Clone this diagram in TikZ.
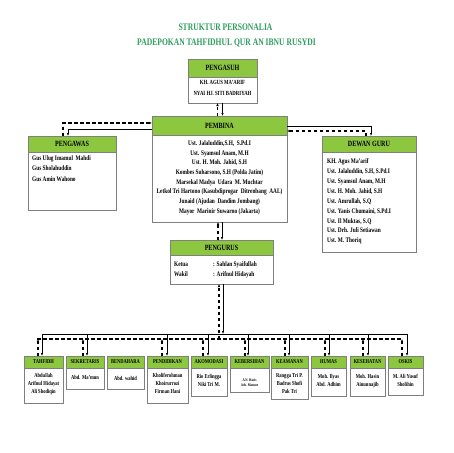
\documentclass[tikz,border=0pt]{standalone}
\usepackage{fontspec}
\setmainfont{Liberation Serif}[FakeStretch=0.76]
\usetikzlibrary{arrows.meta,calc}
\definecolor{hgreen}{HTML}{8DC63F}
\definecolor{bgray}{HTML}{7F7F7F}
\definecolor{tgreen}{HTML}{2E9E5E}
\newcommand\obox[8]{%
 \pgfmathsetmacro\bw{#3-#2}%
 \pgfmathsetmacro\bh{#6-#4}%
 \pgfmathsetmacro\hh{#5-#4}%
 \node[bodybox, minimum width=\bw pt, minimum height=\bh pt] (#1) at (#2,#4) {};%
 \node[#8, minimum width=\bw pt, minimum height=\hh pt] (#1-h) at (#2,#4) {#7};%
}
\newcommand\blines[4]{%
 \foreach \t [count=\i] in {#4} {\node[stxt] (#1-\i) at (#2,{#3+8*\i-8}) {\t};}%
}
\begin{document}
\begin{tikzpicture}[x=1pt,y=-1pt,
 bodybox/.style={draw=bgray, fill=white, line width=0.7pt, inner sep=0pt, outer sep=0pt, anchor=north west},
 headbox/.style={bodybox, fill=hgreen, font=\bfseries\fontsize{8}{8}\selectfont},
 sheadbox/.style={bodybox, fill=hgreen, font=\bfseries\fontsize{5.9}{5.9}\selectfont},
 title/.style={inner sep=0pt, anchor=base, text=tgreen, font=\bfseries\fontsize{10}{12}\selectfont},
 ctxt/.style={inner sep=0pt, anchor=base, font=\bfseries\fontsize{7}{8}\selectfont},
 ptxt/.style={ctxt, font=\bfseries\fontsize{6.3}{7}\selectfont},
 ltxt/.style={ctxt, anchor=base west},
 stxt/.style={inner sep=0pt, anchor=base, font=\bfseries\fontsize{6}{6}\selectfont},
 ttxt/.style={inner sep=0pt, anchor=base, font=\bfseries\fontsize{4}{5}\selectfont},
 sol/.style={line width=0.6pt, -{Latex[length=3pt,width=2.4pt]}},
 dsh/.style={line width=1.1pt, dash pattern=on 3.5pt off 2.5pt, -{Latex[length=3.2pt,width=2.8pt]}},
 dline/.style={line width=1.1pt, dash pattern=on 3.5pt off 2.5pt}
]
\fill[white] (0,0) rectangle (453,453);
\useasboundingbox (0,0) rectangle (453,453);

% title
\node[title] (t1) at (225.5,30.3) {STRUKTUR PERSONALIA};
\node[title] (t2) at (226.5,45.3) {PADEPOKAN TAHFIDHUL QUR AN IBNU RUSYDI};

% upper boxes
\obox{pengasuh}{188}{257}{59}{77}{103}{PENGASUH}{headbox}
\obox{pembina}{152}{287}{116}{135}{222}{PEMBINA}{headbox}
\obox{pengawas}{28}{116}{136}{152}{210}{PENGAWAS}{headbox}
\obox{dewan}{322}{416}{136}{152}{252}{DEWAN GURU}{headbox}
\obox{pengurus}{170}{273}{240}{255}{284}{PENGURUS}{headbox}

\node[ptxt] (pa1) at (222.5,84.1) {KH. AGUS MA'ARIF};
\node[ptxt] (pa2) at (222.5,95.1) {NYAI HJ. SITI BADRIYAH};

\foreach \t [count=\i] in {{Ust. Jalaluddin,S.H,\ \ S.Pd.I},{Ust. Syamsul Anam, M.H},{Ust. H. Moh. Jahid, S.H},{Kombes Suharsono, S.H (Polda Jatim)},{Marsekal Madya\ \ Udara\ \ M. Muchtar},{Letkol Tri Hartono (Kasubdiprogar\ \ Ditrenbang\ \ AAL)},{Junaid (Ajudan\ \ Dandim Jombang)},{Mayor\ \ Marinir Suwarno (Jakarta)}}
 {\node[ctxt] (pb\i) at (219.5,{145.3+9.7*\i-9.7}) {\t};}

\foreach \t [count=\i] in {{Gus Ulug Imamul\ \ Mahdi},{Gus Sholahuddin},{Gus Amin Wahono}}
 {\node[ltxt] (pw\i) at (32,{160.3+10.5*\i-10.5}) {\t};}

\foreach \t [count=\i] in {{KH. Agus Ma'arif},{Ust. Jalaluddin, S.H, S.Pd.I},{Ust. Syamsul Anam, M.H},{Ust. H. Moh. Jahid, S.H},{Ust. Amrullah, S.Q},{Ust. Yanis Chumaini, S.Pd.I},{Ust. Il Muktas, S.Q},{Ust. Drh. Juli Setiawan},{Ust. M. Thoriq}}
 {\node[ltxt] (dg\i) at (327,{163.3+9.95*\i-9.95}) {\t};}

\node[ltxt] (k1) at (174,266.3) {Ketua};
\node[ltxt] (k2) at (213,266.3) {: Sahlan Syaifullah};
\node[ltxt] (w1) at (174,276.3) {Wakil};
\node[ltxt] (w2) at (213,276.3) {: Arifnul Hidayah};

% bottom boxes
\obox{tahfidh}{24}{63}{356}{368}{403}{TAHFIDH}{sheadbox}
\obox{sekretaris}{66}{104}{356}{368}{389}{SEKRETARIS}{sheadbox}
\obox{bendahara}{107}{144}{356}{368}{389}{BENDAHARA}{sheadbox}
\obox{pendidikan}{147}{188}{356}{368}{403}{PENDIDIKAN}{sheadbox}
\obox{akomodasi}{191}{227}{356}{368}{396}{AKOMODASI}{sheadbox}
\obox{kebersihan}{230}{269}{356}{368}{392}{KEBERSIHAN}{sheadbox}
\obox{keamanan}{271}{308}{356}{368}{399}{KEAMANAN}{sheadbox}
\obox{humas}{311}{346}{356}{368}{396}{HUMAS}{sheadbox}
\obox{kesehatan}{350}{385}{356}{368}{396}{KESEHATAN}{sheadbox}
\obox{oskis}{388}{423}{356}{368}{395}{OSKIS}{sheadbox}

\blines{tf}{43.5}{377.9}{Abdullah,Arifnul Hidayat,Ali Shodiqin}
\blines{sk}{85}{379.4}{Abd. Ma'mun}
\blines{bd}{125.5}{380.4}{Abd. wahid}
\blines{pd}{167.5}{377.9}{Kholiferohman,Khoirurrozi,Firman Ifani}
\blines{ak}{209}{378.9}{Rio Erlingga,Niki Tri M.}
\node[ttxt] (kb1) at (249.5,381.3) {A.N. Haris};
\node[ttxt] (kb2) at (249.5,386.5) {Ach. Mansur};
\blines{km}{289.5}{377.9}{Rangga Tri P.,Badrus Shofi,Pak Tri}
\blines{hm}{328.5}{378.9}{Moh. Ilyas,Abd. Adhim}
\blines{ks}{367.5}{378.9}{Moh. Hasin,Ainunnajib}
\blines{os}{405.5}{378.9}{M. Ali Yusuf,Sholihin}

% vertical connectors top
\draw[sol] (pengasuh.south -| 222.5,0) -- (pembina-h.north -| 222.5,0);
\draw[dsh] (pembina-h.north -| 217.5,0) -- (pengasuh.south -| 217.5,0);
\draw[sol] (pembina.south -| 222,0) -- (pengurus-h.north -| 222,0);
\draw[dsh] (pengurus-h.north -| 218,0) -- (pembina.south -| 218,0);

% side connectors
\draw[dsh] (pengawas-h.north -| 63,0) |- (pembina-h.west |- 0,123);
\draw[sol] (pembina-h.west |- 0,129) -| (pengawas-h.north -| 68,0);
\draw[dsh] (dewan-h.north -| 366,0) |- (pembina-h.east |- 0,131);
\draw[sol] (pembina-h.east |- 0,126) -| (dewan-h.north -| 371,0);

% bus
\coordinate (busL) at (42,334);
\coordinate (busR) at (407,334);
\coordinate (dbusL) at (37,339);
\coordinate (dbusR) at (402,339);
\draw[line width=0.6pt] (busL) -- (busR);
\draw[dline] (dbusL) -- (dbusR);
\draw[sol] (pengurus.south -| 223,0) -- (busL -| 223,0);
\draw[dsh] (dbusL -| 219,0) -- (pengurus.south -| 219,0);

\foreach \n/\s/\d in {tahfidh/42/38, sekretaris/87/83, pendidikan/167/162, akomodasi/208/203, kebersihan/248/245, keamanan/289/285, humas/329/325, kesehatan/368/363, oskis/407/402}
 {\draw[sol] (busL -| \s,0) -- (\n-h.north -| \s,0);
  \draw[dsh] (\n-h.north -| \d,0) -- (dbusL -| \d,0);}
\end{tikzpicture}
\end{document}
